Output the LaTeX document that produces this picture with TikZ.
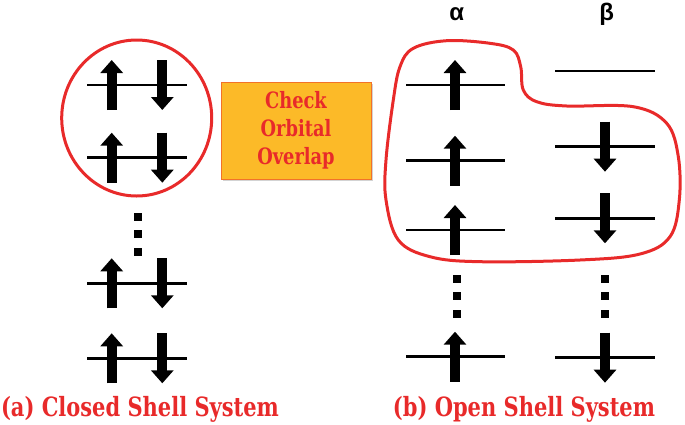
\documentclass[tikz,border=0pt]{standalone}
\usepackage{fontspec}
\usetikzlibrary{arrows.meta,shadows}
\newfontfamily\capfont[FakeStretch=0.88]{DejaVu Serif Condensed}
\newfontfamily\spinfont{Liberation Sans}
\definecolor{myred}{RGB}{232,42,42}
\definecolor{boxorange}{RGB}{252,186,40}
\tikzset{
  level/.style={line width=2.6pt},
  spin/.style={line width=10pt, -{Triangle[width=22pt,length=13pt]}},
  ring/.style={myred, line width=3pt},
  redtext/.style={text=myred, font=\capfont\bfseries\fontsize{26.5}{30}\selectfont},
}
\begin{document}
\begin{tikzpicture}[x=1pt,y=-1pt]
\useasboundingbox (0,0) rectangle (685,424);
% closed shell
\draw[ring] (136.7,118) ellipse [x radius=75, y radius=78];
\foreach \y in {85,157.7,283.3,358.3} {
  \draw[level] (87,\y) -- (187,\y);
  \draw[spin] (111.7,\y+25) -- (111.7,\y-25);
  \draw[spin] (162.3,\y-25) -- (162.3,\y+25);
}
\foreach \y in {216.7,234,251.7}
  \fill (133.5,\y-4) rectangle (141.5,\y+4);
\node[draw=myred!50!boxorange, fill=boxorange, drop shadow={opacity=0.35, shadow xshift=1.5pt, shadow yshift=-1.5pt},
  minimum width=150, minimum height=97, align=center, text=myred,
  font=\capfont\bfseries\fontsize{22.5}{28}\selectfont] (chk) at (296,130.5) {Check\\Orbital\\Overlap};
% open shell
\node[anchor=base, font=\spinfont\bfseries\fontsize{24}{28}\selectfont] (alpha) at (456.7,20.7) {α};
\node[anchor=base, font=\spinfont\bfseries\fontsize{24}{28}\selectfont] (beta) at (606.7,20.7) {β};
\draw[ring] plot[smooth cycle, tension=0.6] coordinates {
  (413.3,48.3) (446.7,40.7) (490,43.3) (513.3,50) (520.7,66.7) (523.3,90)
  (536.7,101.7) (566.7,106) (633.3,106.7) (666.7,123.3) (678.3,156.7)
  (679.3,200) (670,236.7) (640,254) (580,260) (480,261.7) (430,256.7)
  (398.3,240) (386,200) (386,160) (393.3,100) (400,66.7)};
\foreach \y in {85,160.7,230,356.7} {
  \draw[level] (406,\y) -- (505,\y);
  \draw[spin] (455,\y+25) -- (455,\y-25);
}
\draw[level] (555,71) -- (655,71);
\foreach \y in {146.7,218.3,357.7} {
  \draw[level] (555,\y) -- (655,\y);
  \draw[spin] (605,\y-25) -- (605,\y+25);
}
\foreach \y in {279,295.8,313.5} {
  \fill (452.7,\y-4) rectangle (460.7,\y+4);
  \fill (600.5,\y-4) rectangle (608.5,\y+4);
}
% captions
\node[redtext, anchor=base] (capa) at (140,416.7) {(a) Closed Shell System};
\node[redtext, anchor=base] (capb) at (524,416.7) {(b) Open Shell System};
\end{tikzpicture}
\end{document}
